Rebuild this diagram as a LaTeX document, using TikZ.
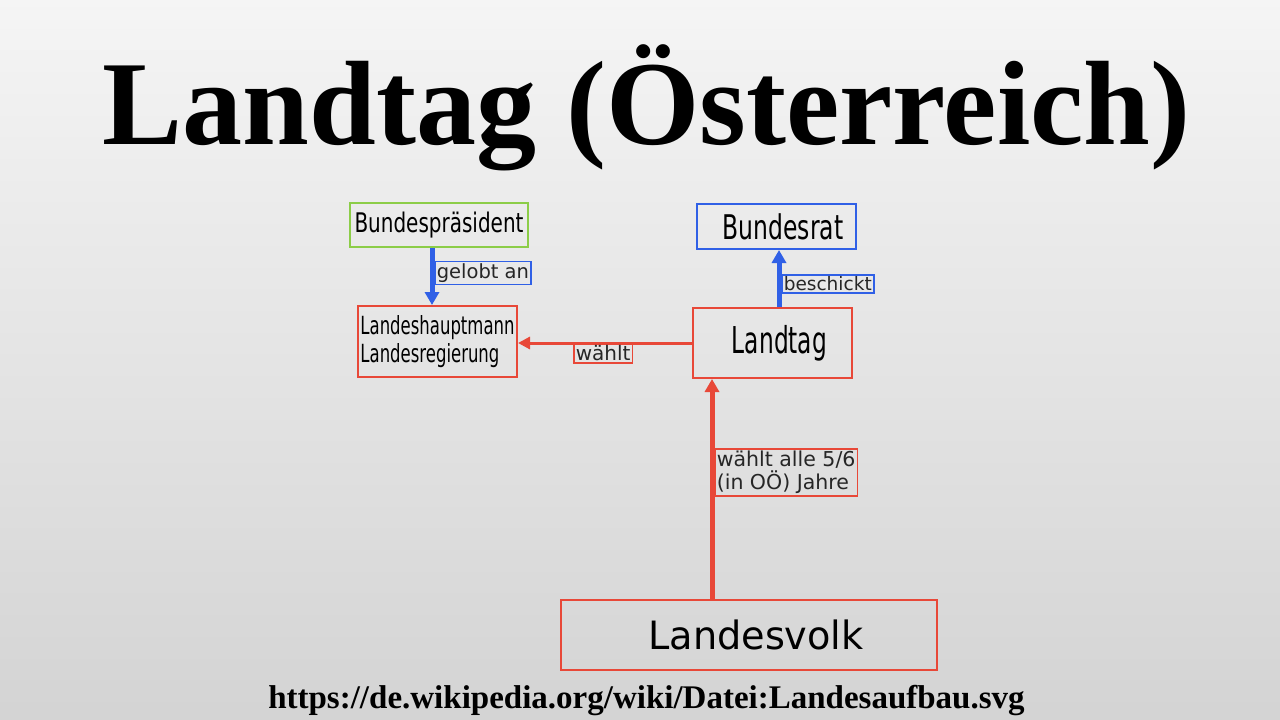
\documentclass[tikz,border=0pt]{standalone}
\usepackage{fontspec}
\setmainfont{Liberation Serif}
\newfontfamily\dejavu{DejaVu Sans}
\usetikzlibrary{arrows.meta, positioning}
\definecolor{boxred}{RGB}{232,72,56}
\definecolor{boxblue}{RGB}{48,96,230}
\definecolor{boxgreen}{RGB}{140,205,72}
\newcommand\narrowfont[3]{\fontspec[FakeStretch=#3]{DejaVu Sans}\fontsize{#1}{#2}\selectfont}
\newcommand\tagfont[2]{\dejavu\fontsize{#1}{#2}\selectfont}
\begin{document}
\begin{tikzpicture}[x=1pt, y=-1pt,
    box/.style={draw, line width=2pt, inner sep=0pt},
    tag/.style={draw, line width=1.6pt, inner xsep=2pt, inner ysep=2pt, anchor=west, align=left, text=black!85},
    link/.style={line width=5pt, -{Triangle[length=13pt, width=14pt]}}]
  \shade[top color=white!96!black, bottom color=white!83!black] (0,0) rectangle (1280,720);
  \useasboundingbox (0,0) rectangle (1280,720);
  \node[font=\bfseries\fontsize{120pt}{120pt}\selectfont, anchor=base] (title) at (646.5,144) {Landtag (Österreich)};
  \node[box, draw=boxgreen, minimum width=178pt, minimum height=44pt, font=\narrowfont{27pt}{30pt}{0.74}] (praes) at (439,225) {Bundespräsident};
  \node[box, draw=boxred, minimum width=159pt, minimum height=71pt, align=left, font=\narrowfont{25pt}{28pt}{0.66}] (regierung) at (437.5,341.5) {Landeshauptmann\\Landesregierung};
  \node[box, draw=boxred, minimum width=159pt, minimum height=70pt, font=\narrowfont{37pt}{40pt}{0.63}] (landtag) at (772.5,343) {\hspace*{14pt}Landtag};
  \node[box, draw=boxblue, minimum width=159pt, minimum height=45pt, font=\narrowfont{34pt}{36pt}{0.69}] (bundesrat) at (776.5,226.5) {\hspace*{13pt}Bundesrat};
  \node[box, draw=boxred, minimum width=376pt, minimum height=70pt, font=\narrowfont{39pt}{40pt}{0.98}] (volk) at (749,635) {\hspace*{14pt}Landesvolk};
  \draw[link, draw=boxblue, fill=boxblue] ([xshift=-7pt]praes.south) -- ([xshift=-5.5pt]regierung.north);
  \draw[link, draw=boxblue, fill=boxblue] ([xshift=6.5pt]landtag.north) -- ([xshift=2.5pt]bundesrat.south);
  \draw[draw=boxred, line width=3pt, -{Triangle[length=12pt, width=12pt]}] (landtag.west) -- (landtag.west -| regierung.east);
  \draw[link, draw=boxred] ([xshift=-37pt]volk.north) -- ([xshift=-37pt]volk.north |- landtag.south);
  \node[tag, draw=boxblue, font=\tagfont{19.5pt}{21pt}] (gelobt) at (434,273) {gelobt an};
  \node[tag, draw=boxblue, font=\tagfont{18.5pt}{21pt}] (beschickt) at (781,284) {beschickt};
  \node[tag, draw=boxred, font=\tagfont{20pt}{21pt}] (waehlt) at (573,353.5) {wählt};
  \node[tag, draw=boxred, font=\tagfont{20.5pt}{23pt}] (periode) at (714,472.5) {wählt alle 5/6\\(in OÖ) Jahre};
  \node[font=\bfseries\fontsize{33pt}{33pt}\selectfont, anchor=base] (quelle) at (646.5,708) {https://de.wikipedia.org/wiki/Datei:Landesaufbau.svg};
\end{tikzpicture}
\end{document}
